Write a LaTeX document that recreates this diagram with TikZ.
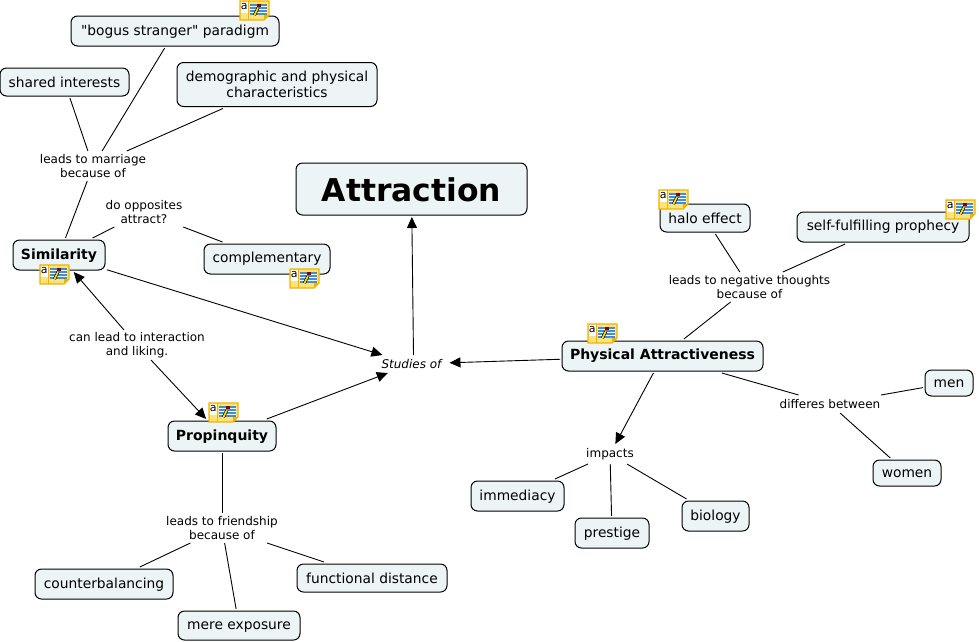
\documentclass[tikz,border=0pt]{standalone}
\usepackage{fontspec}
\setmainfont{DejaVu Sans}
\newfontfamily\straightfont{DejaVu Sans}
\usetikzlibrary{arrows.meta}
\definecolor{nodefill}{HTML}{EDF4F6}
\definecolor{noteyellow}{HTML}{FFE37A}
\definecolor{noteedge}{HTML}{F0B400}
\definecolor{noteblue}{HTML}{3F8FD8}
\tikzset{
  concept/.style={draw=black,fill=nodefill,rounded corners=6.5pt,line width=1pt,inner sep=0pt,outer sep=2pt,align=center,text=black,font=\fontsize{13.8}{16.5}\selectfont,text height=11pt,text depth=2pt},
  lowtext/.style={text height=12pt,text depth=1pt},
  hightext/.style={text height=10pt,text depth=3pt},
  multiline/.style={text height={},text depth={}},
  boldconcept/.style={concept,font=\fontsize{14}{17}\selectfont\bfseries},
  titleconcept/.style={concept,font=\fontsize{31.4}{38}\selectfont\bfseries,text height=25pt,text depth=1pt},
  linkphrase/.style={inner sep=0pt,outer sep=1pt,align=center,text=black,font=\fontsize{12}{14.5}\selectfont},
  link/.style={line width=0.9pt,draw=black},
  arrowlink/.style={link,-{Triangle[length=11pt,width=10pt]}},
  biarrowlink/.style={link,{Triangle[length=11pt,width=10pt]}-},
  noteicon/.pic={
    \path[fill=noteyellow,draw=noteedge,line width=1.1pt] (0,0) -- (29,0) -- (29,14) -- (24,19) -- (0,19) -- cycle;
    \path[fill=noteedge] (29,14) -- (24,14) -- (24,19) -- cycle;
    \draw[noteedge,line width=0.7pt] (8,0) -- (8,19);
    \fill[white] (1,1) rectangle (7.5,11.5);
    \node[inner sep=0pt,font=\fontsize{11}{11}\selectfont,text=black] (-a) at (4.2,5.5) {a};
    \fill[white] (9.5,3) rectangle (27,14);
    \foreach \yy in {4,7,10,13} {\draw[noteblue,line width=1.2pt] (9.5,\yy) -- (27,\yy);}
    \draw[black,line width=3pt] (14.5,14) -- (18,7);
    \draw[yellow!85!orange,line width=1.6pt] (14.5,14) -- (18,7);
    \fill[red!55!black] (17,2.5) rectangle (20.5,6);
  }
}
\begin{document}
\begin{tikzpicture}[x=1pt,y=-1pt]
\useasboundingbox (0,0) rectangle (979,641);
\fill[white] (0,0) rectangle (979,641);
% concepts
\node[titleconcept,minimum width=231pt,minimum height=52pt] (attraction) at (411.5,189) {Attraction};
\node[concept,minimum width=208pt,minimum height=30pt] (bogus) at (175,31) {{\straightfont\char34}bogus stranger{\straightfont\char34} paradigm};
\node[concept,lowtext,minimum width=129pt,minimum height=28pt] (shared) at (64.5,82) {shared interests};
\node[concept,multiline,minimum width=200pt,minimum height=44pt] (demo) at (277,84.5) {demographic and physical\\characteristics};
\node[boldconcept,minimum width=92pt,minimum height=30pt] (similarity) at (59,255) {Similarity};
\node[concept,hightext,minimum width=126pt,minimum height=30pt] (complementary) at (267,259) {complementary};
\node[boldconcept,minimum width=108pt,minimum height=30pt] (propinquity) at (222,436) {Propinquity};
\node[boldconcept,hightext,minimum width=201pt,minimum height=30pt] (physical) at (662.5,356) {Physical Attractiveness};
\node[concept,lowtext,minimum width=90pt,minimum height=28pt] (halo) at (705,218) {halo effect};
\node[concept,hightext,minimum width=172pt,minimum height=30pt] (selffulfil) at (883,227) {self-fulfilling prophecy};
\node[concept,minimum width=48pt,minimum height=26pt] (men) at (949,383) {men};
\node[concept,minimum width=68pt,minimum height=26pt] (women) at (907,473) {women};
\node[concept,minimum width=93pt,minimum height=30pt] (immediacy) at (517.5,496) {immediacy};
\node[concept,minimum width=74pt,minimum height=30pt] (prestige) at (612,533) {prestige};
\node[concept,minimum width=67pt,minimum height=30pt] (biology) at (715.5,516) {biology};
\node[concept,minimum width=138pt,minimum height=30pt] (counter) at (104,584) {counterbalancing};
\node[concept,hightext,minimum width=122pt,minimum height=29pt] (mere) at (239,625.5) {mere exposure};
\node[concept,lowtext,minimum width=150pt,minimum height=28pt] (functional) at (372,578) {functional distance};
% linking phrases
\node[linkphrase,minimum height=28pt] (marriage) at (93,166) {leads to marriage\\because of};
\node[linkphrase,minimum height=28pt] (opposites) at (144,212) {do opposites\\attract?};
\node[linkphrase,minimum height=28pt] (interaction) at (137,345) {can lead to interaction\\and liking.};
\node[linkphrase,minimum height=16pt,inner xsep=7pt,font=\fontsize{12}{14.5}\selectfont\itshape] (studies) at (411.5,364) {Studies of};
\node[linkphrase,minimum height=28pt] (friendship) at (222,528) {leads to friendship\\because of};
\node[linkphrase,minimum height=18pt] (impacts) at (610,454) {impacts};
\node[linkphrase,minimum height=16pt] (differs) at (830,404) {differes between};
\node[linkphrase,minimum height=28pt] (negative) at (749.5,287) {leads to negative thoughts\\because of};
% connectors
\draw[link] (shared) -- (marriage);
\draw[link] (bogus) -- (marriage);
\draw[link] (demo) -- (marriage);
\draw[link] (marriage) -- (similarity);
\draw[link] (similarity) -- (opposites);
\draw[link] (opposites) -- (complementary);
\draw[arrowlink] (similarity) -- (studies);
\draw[biarrowlink] (similarity) -- (interaction);
\draw[arrowlink] (interaction) -- (propinquity);
\draw[arrowlink] (propinquity) -- (studies);
\draw[arrowlink] ([xshift=2pt]studies.north) -- (attraction);
\draw[arrowlink] (physical) -- (studies);
\draw[link] (propinquity) -- (friendship);
\draw[link] (friendship) -- (counter);
\draw[link] (friendship) -- (mere);
\draw[link] (friendship) -- (functional);
\draw[link] (halo) -- (negative);
\draw[link] (selffulfil) -- (negative);
\draw[link] (negative) -- (physical);
\draw[arrowlink] (physical) -- (impacts);
\draw[link] (impacts) -- (immediacy);
\draw[link] (impacts) -- (prestige);
\draw[link] (impacts) -- (biology);
\draw[link] (physical) -- (differs);
\draw[link] (differs) -- (men);
\draw[link] (differs) -- (women);
% note icons
\pic (n1) at (240,1) {noteicon};
\pic (n2) at (40,265) {noteicon};
\pic (n3) at (290,269) {noteicon};
\pic (n4) at (209,403) {noteicon};
\pic (n5) at (588,324) {noteicon};
\pic (n6) at (659,190) {noteicon};
\pic (n7) at (946,200) {noteicon};
\end{tikzpicture}
\end{document}
